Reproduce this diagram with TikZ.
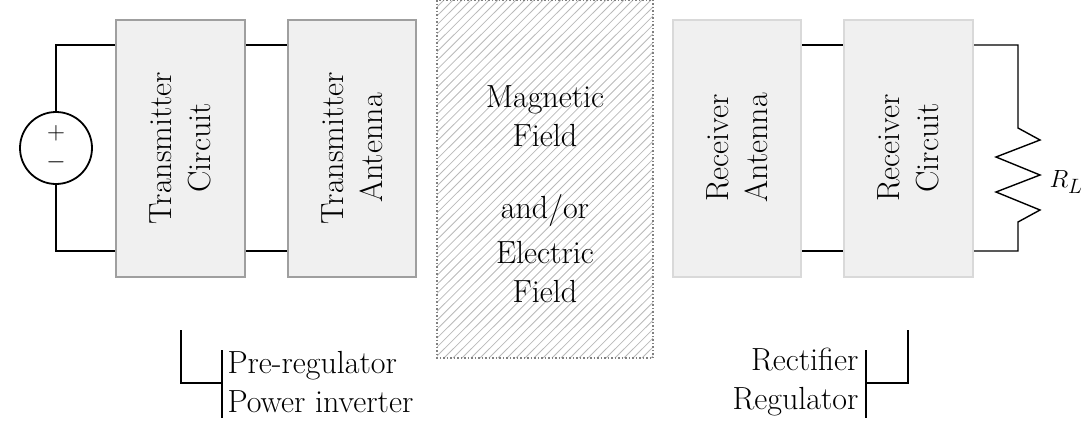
\documentclass[tikz,border=0pt]{standalone}
\begin{document}
\begin{tikzpicture}[x=1pt,y=-1pt,
  blk/.style={draw=gray!75,line width=2.5pt,fill=gray!12},
  rblk/.style={draw=gray!30,line width=2pt,fill=gray!12},
  lbl/.style={font=\fontsize{32}{39}\selectfont,align=center},
  wire/.style={line width=1.4pt}]
\useasboundingbox (0,0) rectangle (1092,434);
\begin{scope}
\clip (437,0) rectangle (653,358);
\foreach \i in {0,9,...,620} {\draw[gray!55,line width=0.8pt] (437-20+\i-360,358) -- (437-20+\i,0);}
\end{scope}
\draw[gray,line width=1.5pt,dotted] (437,0) rectangle (653,358);
\node[lbl] (mf) at (545,116) {Magnetic\\Field};
\node[lbl] (ao) at (545,210) {and/or};
\node[lbl] (ef) at (545,272) {Electric\\Field};
% wires
\draw[wire] (56,112) |- (116,45);
\draw[wire] (56,184) |- (116,251);
\draw[wire] (245,45) -- (288,45);
\draw[wire] (245,251) -- (288,251);
\draw[wire] (801,45) -- (844,45);
\draw[wire] (801,251) -- (844,251);
\draw[wire] (973,45) -| (1018,128) -- (1040,140) -- (996,157) -- (1040,175) -- (996,192) -- (1040,210) -- (1018,222) |- (973,251);
\node[font=\fontsize{32}{39}\selectfont] (rl) at (1066,182) {$R_L$};
\node[draw,circle,line width=1.8pt,minimum size=72pt,inner sep=0pt] (src) at (56,148) {};
\node[font=\fontsize{30}{34}\selectfont] at (56,133) {$+$};
\node[font=\fontsize{30}{34}\selectfont] at (56,162) {$-$};
\draw[blk] (116,20) rectangle (245,277);
\draw[blk] (288,20) rectangle (416,277);
\draw[rblk] (673,20) rectangle (801,277);
\draw[rblk] (844,20) rectangle (973,277);
\node[lbl,rotate=90] at (180,148) {Transmitter\\Circuit};
\node[lbl,rotate=90] at (352,148) {Transmitter\\Antenna};
\node[lbl,rotate=90] at (737,148) {Receiver\\Antenna};
\node[lbl,rotate=90] at (908,148) {Receiver\\Circuit};
% brackets
\draw[wire] (181,330) |- (222,383);
\draw[wire] (222,350) -- (222,418);
\node[lbl,anchor=west,align=left] at (224,382) {Pre-regulator\\Power inverter};
\draw[wire] (908,330) |- (866,383);
\draw[wire] (866,350) -- (866,418);
\node[lbl,anchor=east,align=right] at (862,382) {Rectifier\\Regulator};
\end{tikzpicture}
\end{document}
